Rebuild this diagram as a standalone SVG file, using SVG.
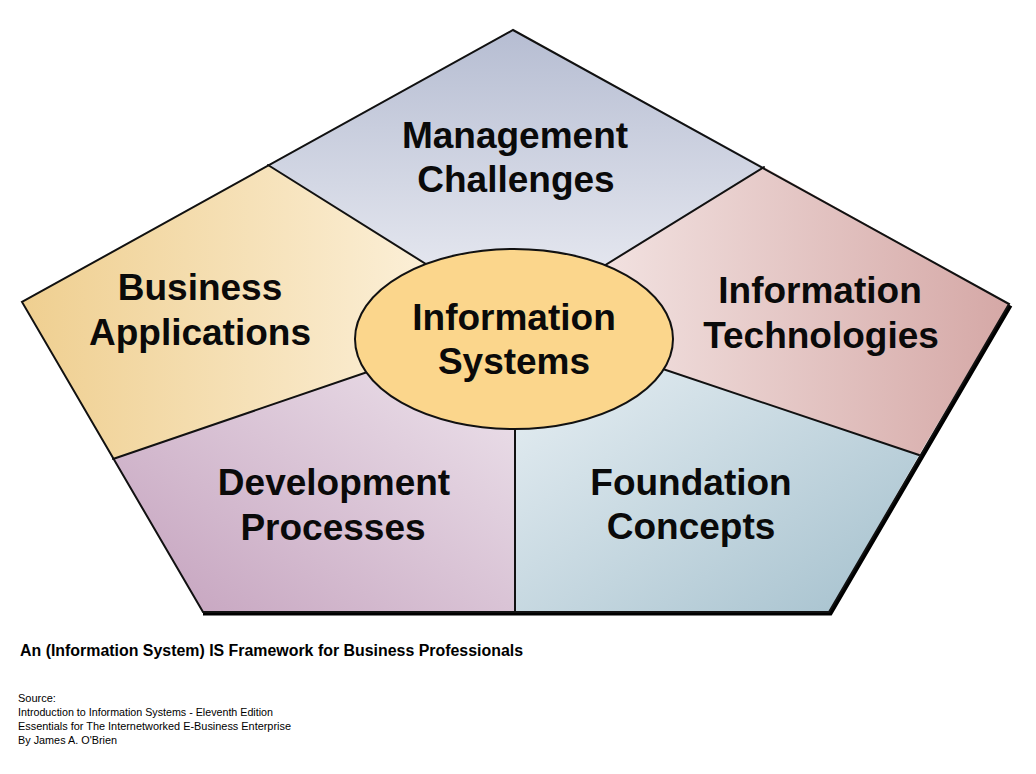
<svg xmlns="http://www.w3.org/2000/svg" width="1036" height="774" viewBox="0 0 1036 774">
<style>
.lbl{font-family:"Liberation Sans",Arial,Helvetica,sans-serif;font-weight:bold;font-size:37px;fill:#0a0a0a;text-anchor:middle}
.div{stroke:#111;stroke-width:2;fill:none;stroke-linecap:round}
.cap{font-family:"Liberation Sans",Arial,Helvetica,sans-serif;font-weight:bold;font-size:16px;fill:#000}
.src{font-family:"Liberation Sans",Arial,Helvetica,sans-serif;font-size:11px;fill:#000}
</style>
<defs>
<linearGradient id="gMgmt" x1="0" y1="0" x2="0" y2="1">
<stop offset="0" stop-color="#b6bdd2"/><stop offset="1" stop-color="#f1f2f7"/>
</linearGradient>
<linearGradient id="gTech" x1="0" y1="0" x2="1" y2="0">
<stop offset="0" stop-color="#f8eeed"/><stop offset="1" stop-color="#d5a8a6"/>
</linearGradient>
<linearGradient id="gFound" x1="0" y1="0" x2="1" y2="1">
<stop offset="0" stop-color="#eaf1f5"/><stop offset="1" stop-color="#a4c0cd"/>
</linearGradient>
<linearGradient id="gDev" x1="1" y1="0" x2="0" y2="1">
<stop offset="0" stop-color="#efe6ee"/><stop offset="1" stop-color="#c4a1bd"/>
</linearGradient>
<linearGradient id="gBus" x1="0" y1="0" x2="1" y2="0">
<stop offset="0" stop-color="#efcf90"/><stop offset="1" stop-color="#fef6e6"/>
</linearGradient>
</defs>
<rect width="1036" height="774" fill="#fff"/>

<g id="management-challenges">
<polygon points="268,165 513,30 764,167 586,277 514,339 445,276" fill="url(#gMgmt)"/>
<text class="lbl" x="515" y="148">Management</text>
<text class="lbl" x="516" y="192">Challenges</text>
</g>
<g id="information-technologies">
<polygon points="764,167 1009,304 919,455 645,363 514,339 586,277" fill="url(#gTech)"/>
<text class="lbl" x="820" y="303">Information</text>
<text class="lbl" x="821" y="348">Technologies</text>
</g>
<g id="foundation-concepts">
<polygon points="919,455 829,612 515,612 515,410 514,339 645,363" fill="url(#gFound)"/>
<text class="lbl" x="691" y="495">Foundation</text>
<text class="lbl" x="691" y="539">Concepts</text>
</g>
<g id="development-processes">
<polygon points="515,612 203,612 113,459 385,366 514,339 515,410" fill="url(#gDev)"/>
<text class="lbl" x="334" y="495">Development</text>
<text class="lbl" x="333" y="540">Processes</text>
</g>
<g id="business-applications">
<polygon points="113,459 22,302 268,165 445,276 514,339 385,366" fill="url(#gBus)"/>
<text class="lbl" x="200" y="300">Business</text>
<text class="lbl" x="200" y="345">Applications</text>
</g>

<g id="connectors">
<line class="div" x1="268" y1="165" x2="445" y2="276"/>
<line class="div" x1="764" y1="167" x2="586" y2="277"/>
<line class="div" x1="919" y1="455" x2="645" y2="363"/>
<line class="div" x1="515" y1="612" x2="515" y2="410"/>
<line class="div" x1="113" y1="459" x2="385" y2="366"/>
</g>

<g id="outline">
<polyline points="1010.5,305.5 830.5,613.5 203,613.5" fill="none" stroke="#000" stroke-width="4" stroke-linejoin="miter"/>
<polygon points="513,30 1009,304 829,612 203,612 22,302" fill="none" stroke="#111" stroke-width="2" stroke-linejoin="miter"/>
</g>

<g id="information-systems">
<ellipse cx="514" cy="339" rx="159" ry="90" fill="#fbd68c" stroke="#111" stroke-width="2"/>
<text class="lbl" x="514" y="330">Information</text>
<text class="lbl" x="514" y="374">Systems</text>
</g>

<g id="caption">
<text class="cap" x="20" y="656" textLength="503" lengthAdjust="spacingAndGlyphs">An (Information System) IS Framework for Business Professionals</text>
<text class="src" x="18" y="702">Source:</text>
<text class="src" x="18" y="716" textLength="255" lengthAdjust="spacingAndGlyphs">Introduction to Information Systems - Eleventh Edition</text>
<text class="src" x="18" y="730" textLength="273" lengthAdjust="spacingAndGlyphs">Essentials for The Internetworked E-Business Enterprise</text>
<text class="src" x="18" y="744" textLength="99" lengthAdjust="spacingAndGlyphs">By James A. O'Brien</text>
</g>
</svg>
